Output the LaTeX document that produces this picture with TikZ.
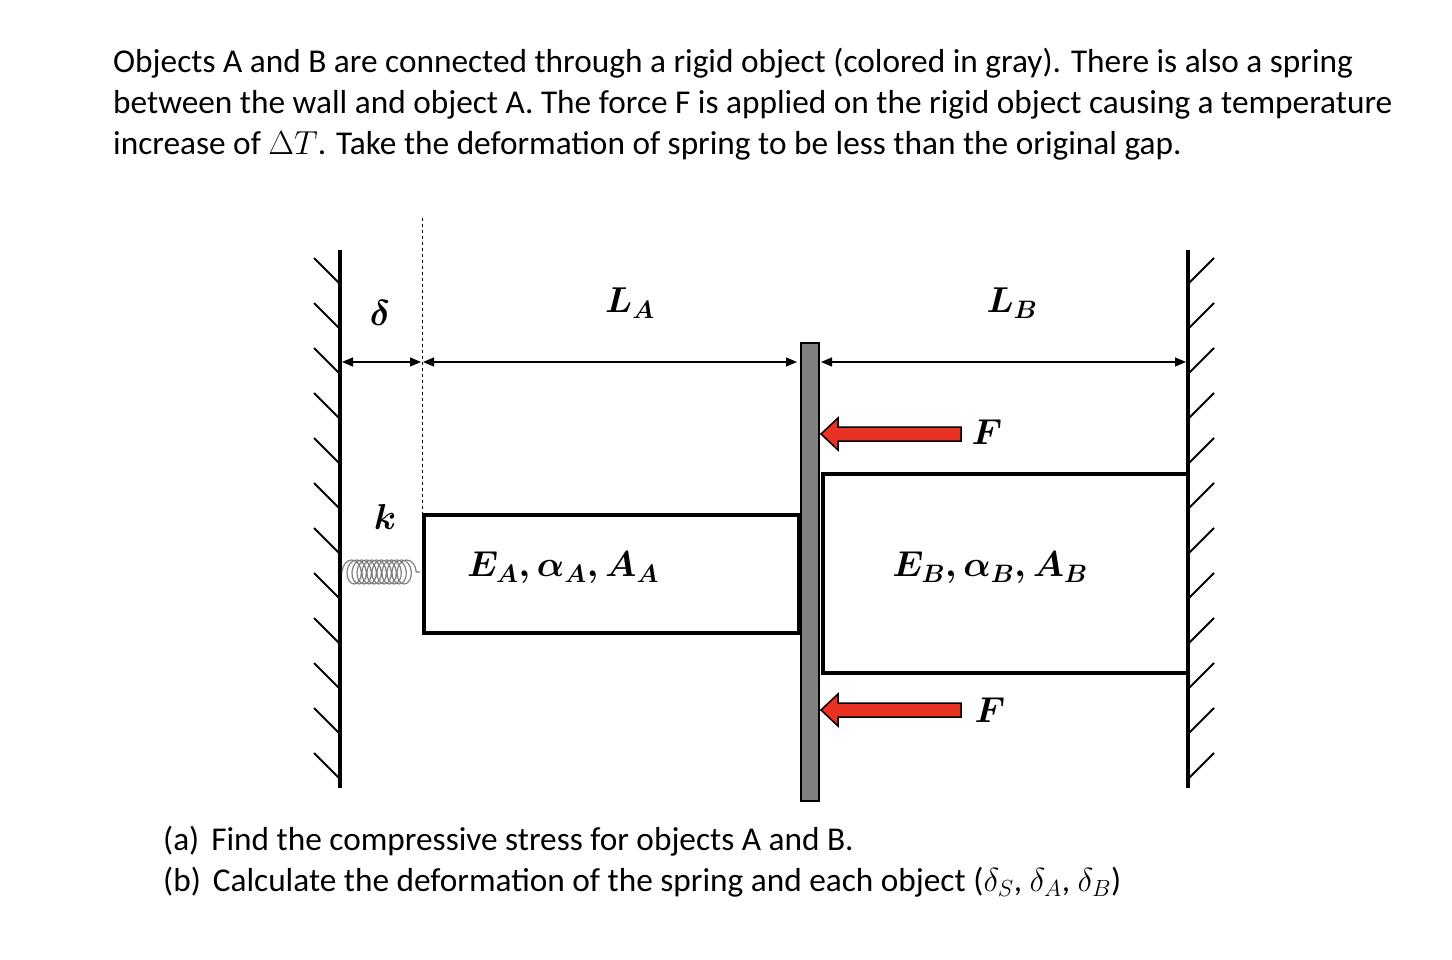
\documentclass[tikz,border=0pt]{standalone}
\usepackage{fix-cm}
\usepackage{fontspec}
\setmainfont{Carlito}
\usetikzlibrary{decorations.pathmorphing,arrows.meta}
\begin{document}
\begin{tikzpicture}[x=1pt,y=-1pt,
  dim/.style={{Triangle[length=11pt,width=9pt]}-{Triangle[length=11pt,width=9pt]},line width=1.2pt},
  wallline/.style={line width=4pt},
  hatch/.style={line width=1.8pt},
  body/.style={draw,line width=3.5pt,fill=white},
  redarrow/.style={draw=black,line width=1.5pt,fill={rgb,255:red,232;green,50;blue,35}},
  lab/.style={font=\fontsize{36}{36}\selectfont\boldmath},
  para/.style={font=\fontsize{33.3}{41}\selectfont,align=left,anchor=north west,inner sep=0}]
\useasboundingbox (0,0) rectangle (1452,960);
\node[para] (txt) at (113,48) {Objects A and B are connected through a rigid object (colored in gray). There is also a spring\\between the wall and object A. The force F is applied on the rigid object causing a temperature\\increase of $\Delta T$. Take the deformation of spring to be less than the original gap.};
% walls
\draw[wallline] (340,250) -- (340,788);
\draw[wallline] (1188,250) -- (1188,788);
\foreach \y in {258,303,348,393,438,483,528,573,618,663,708,753}{
  \draw[hatch] (314,\y) -- (340,\y+26);
  \draw[hatch] (1188,\y+26) -- (1214,\y);
}
% dashed line
\draw[dashed,line width=1pt] (422,218) -- (422,513);
% boxes
\node[body,minimum width=375pt,minimum height=118pt,anchor=north west,inner sep=0] (A) at (422,513) {};
\node[body,minimum width=365pt,minimum height=199pt,anchor=north west,inner sep=0] (B) at (821,472) {};
\node[draw,line width=1.5pt,fill={rgb,255:red,128;green,128;blue,128},minimum width=18pt,minimum height=458pt,anchor=north west,inner sep=0] (bar) at (800,342) {};
\node[lab] at (563,568) {$E_A,\alpha_A,A_A$};
\node[lab] at (990,568) {$E_B,\alpha_B,A_B$};
% dimensions
\draw[dim] (342,362) -- (421,362);
\draw[dim] (423,362) -- (797,362);
\draw[dim] (821,362) -- (1186,362);
\node[lab] at (380,313) {$\delta$};
\node[lab] at (630,303) {$L_A$};
\node[lab] at (1012,303) {$L_B$};
% spring
\draw[gray,line width=1.2pt,decoration={coil,aspect=0.7,segment length=5pt,amplitude=12pt},decorate] (342,572) -- (420,572);
\node[lab] at (385,517) {$k$};
% red arrows
\foreach \y in {434,710}{
  \draw[redarrow] (961,\y-7) -- (838,\y-7) -- (838,\y-16) -- (821,\y) -- (838,\y+16) -- (838,\y+7) -- (961,\y+7) -- cycle;
}
\node[lab] (F1) at (987,432) {$F$};
\node[lab] (F2) at (990,710) {$F$};
% questions
\node[para] (qa) at (163,826) {(a)\hspace{12pt}Find the compressive stress for objects A and B.\\(b)\hspace{12pt}Calculate the deformation of the spring and each object ($\delta_S$, $\delta_A$, $\delta_B$)};
\end{tikzpicture}
\end{document}
